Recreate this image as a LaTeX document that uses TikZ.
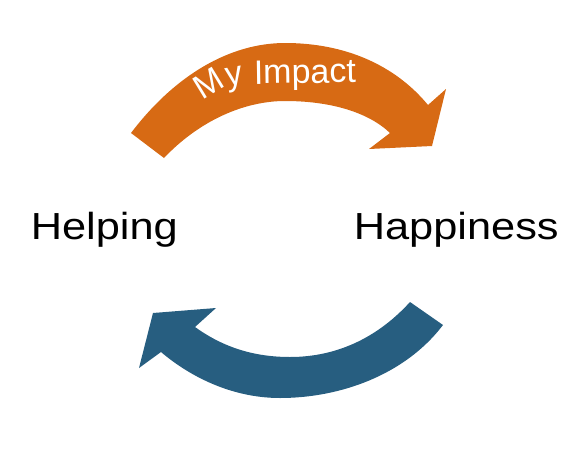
\documentclass[tikz,border=0pt]{standalone}
\usepackage{fontspec}
\usetikzlibrary{decorations.text}
\newfontfamily\labfont[FakeStretch=1.15]{Liberation Sans}
\newfontfamily\arcfont{Liberation Sans}
\definecolor{arrorange}{HTML}{D76A14}
\definecolor{arrblue}{HTML}{275E80}
\begin{document}
\begin{tikzpicture}[x=1pt,y=-1pt,
  label/.style={font=\labfont\fontsize{37.7}{40}\selectfont, inner sep=0pt, anchor=base west, text=black}]
\useasboundingbox (0,0) rectangle (586,458);
% top arrow
\fill[arrorange] (131,133) .. controls (175,75) and (230,43) .. (285,43)
  .. controls (345,43) and (395,65) .. (428,105)
  -- (446,89) -- (432,146) -- (369,149) -- (390,133)
  .. controls (368,112) and (330,101) .. (285,101)
  .. controls (245,101) and (200,120) .. (164,158) -- cycle;
% bottom arrow
\fill[arrblue] (410,302) .. controls (380,335) and (340,357) .. (290,357)
  .. controls (250,357) and (220,345) .. (195,327)
  -- (216,308) -- (153,313) -- (139,368) -- (161,352)
  .. controls (188,375) and (230,398) .. (280,398)
  .. controls (340,398) and (405,375) .. (443,325) -- cycle;
% curved label
\path[decorate, decoration={text along path, text align=left,
  text={|\arcfont\fontsize{34}{35}\selectfont\color{white}|My Impact}}]
  (204,102) .. controls (218,87) and (236,84) .. (257,84) -- (390,82);
\node[label] (helping) at (30.6,239) {Helping};
\node[label] (happiness) at (353.6,239) {Happiness};
\end{tikzpicture}
\end{document}
